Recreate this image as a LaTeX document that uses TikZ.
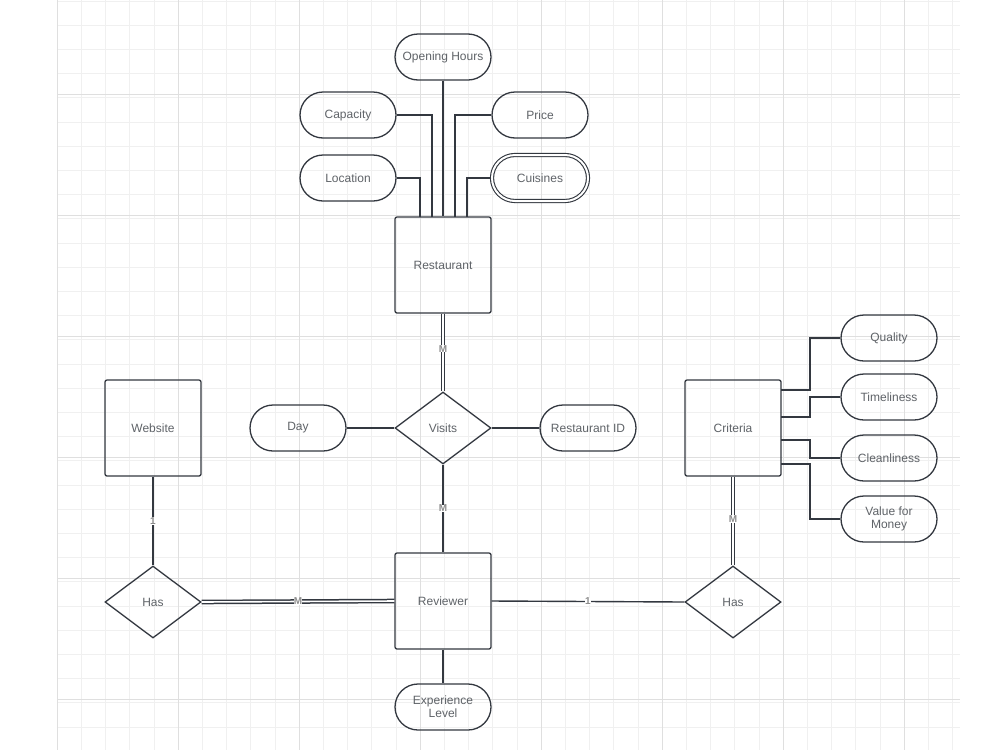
\documentclass[tikz,border=0pt]{standalone}
\usepackage{fontspec}
\setmainfont{Liberation Sans}
\usetikzlibrary{shapes.geometric}
\definecolor{ln}{HTML}{333840}
\definecolor{tx}{HTML}{5F6368}
\begin{document}
\begin{tikzpicture}[x=1pt,y=-1pt,
  every node/.style={font=\fontsize{12}{13}\selectfont, text=tx, align=center},
  ent/.style={draw=ln, line width=1.3pt, rounded corners=2pt, minimum width=96pt, minimum height=96pt, inner sep=0pt},
  attr/.style={draw=ln, line width=1.3pt, rounded corners=23pt, minimum width=96pt, minimum height=46pt, inner sep=0pt},
  rel/.style={draw=ln, line width=1.3pt, diamond, aspect=1.33, minimum width=96pt, minimum height=72pt, inner sep=0pt},
  conn/.style={draw=ln, line width=1.4pt},
  dconn/.style={draw=ln, double=white, double distance=1.6pt, line width=1.5pt},
  card/.style={fill=white, font=\fontsize{10}{10}\selectfont\bfseries, text=gray!90, inner sep=0.3pt}]
\useasboundingbox (0,0) rectangle (1000,750);
\fill[white] (0,0) rectangle (1000,750);
\foreach \i in {0,...,37} \draw[gray!12, line width=0.6pt] (57+24.2*\i,0) -- (57+24.2*\i,750);
\foreach \j in {0,...,31} \draw[gray!12, line width=0.6pt] (57,0.8+24.2*\j) -- (960,0.8+24.2*\j);
\foreach \i in {0,...,7} \draw[gray!25, line width=0.8pt] (57+121*\i,0) -- (57+121*\i,750);
\foreach \j in {0,...,6} \draw[gray!25, line width=0.8pt] (57,94+121*\j-121) -- (960,94+121*\j-121);
% entities
\node[ent] (rest) at (443,265) {Restaurant};
\node[ent] (web) at (153,428) {Website};
\node[ent] (crit) at (733,428) {Criteria};
\node[ent] (rev) at (443,601) {Reviewer};
% relations
\node[rel] (visits) at (443,428) {Visits};
\node[rel] (hasl) at (153,602) {Has};
\node[rel] (hasr) at (733,602) {Has};
% attributes
\node[attr] (open) at (443,57) {Opening Hours};
\node[attr] (cap) at (348,115) {Capacity};
\node[attr] (price) at (540,115) {Price};
\node[attr] (loc) at (348,178) {Location};
\node[attr, double=white, double distance=2pt, line width=1.1pt] (cuis) at (540,178) {Cuisines};
\node[attr] (day) at (298,428) {Day};
\node[attr] (rid) at (588,428) {Restaurant ID};
\node[attr] (exp) at (443,707) {Experience\\Level};
\node[attr] (qual) at (889,338) {Quality};
\node[attr] (time) at (889,397) {Timeliness};
\node[attr] (clean) at (889,458) {Cleanliness};
\node[attr] (val) at (889,519) {Value for\\Money};
% restaurant attributes
\draw[conn] (open.south) -- (rest.north);
\draw[conn] (cap.east) -- (432,115) -- (432,217);
\draw[conn] (price.west) -- (455,115) -- (455,217);
\draw[conn] (loc.east) -- (420,178) -- (420,217);
\draw[conn] (cuis.west) -- (467,178) -- (467,217);
% criteria attributes
\draw[conn] (781,390) -- (810,390) -- (810,338) -- (qual.west);
\draw[conn] (781,417) -- (810,417) -- (810,397) -- (time.west);
\draw[conn] (781,440) -- (810,440) -- (810,458) -- (clean.west);
\draw[conn] (781,464) -- (810,464) -- (810,519) -- (val.west);
% visits
\draw[conn] (day.east) -- (visits.west);
\draw[conn] (visits.east) -- (rid.west);
\draw[conn] (rev.south) -- (exp.north);
\draw[dconn] (rest.south) -- node[card, pos=0.45]{M} (visits.north);
\draw[conn] (visits.south) -- node[card, pos=0.5]{M} (rev.north);
\draw[conn] (web.south) -- node[card, pos=0.5]{1} (hasl.north);
\draw[dconn] (hasl.east) -- node[card, pos=0.5]{M} (rev.west);
\draw[conn] (rev.east) -- node[card, pos=0.5]{1} (hasr.west);
\draw[dconn] (crit.south) -- node[card, pos=0.48]{M} (hasr.north);
\end{tikzpicture}
\end{document}
